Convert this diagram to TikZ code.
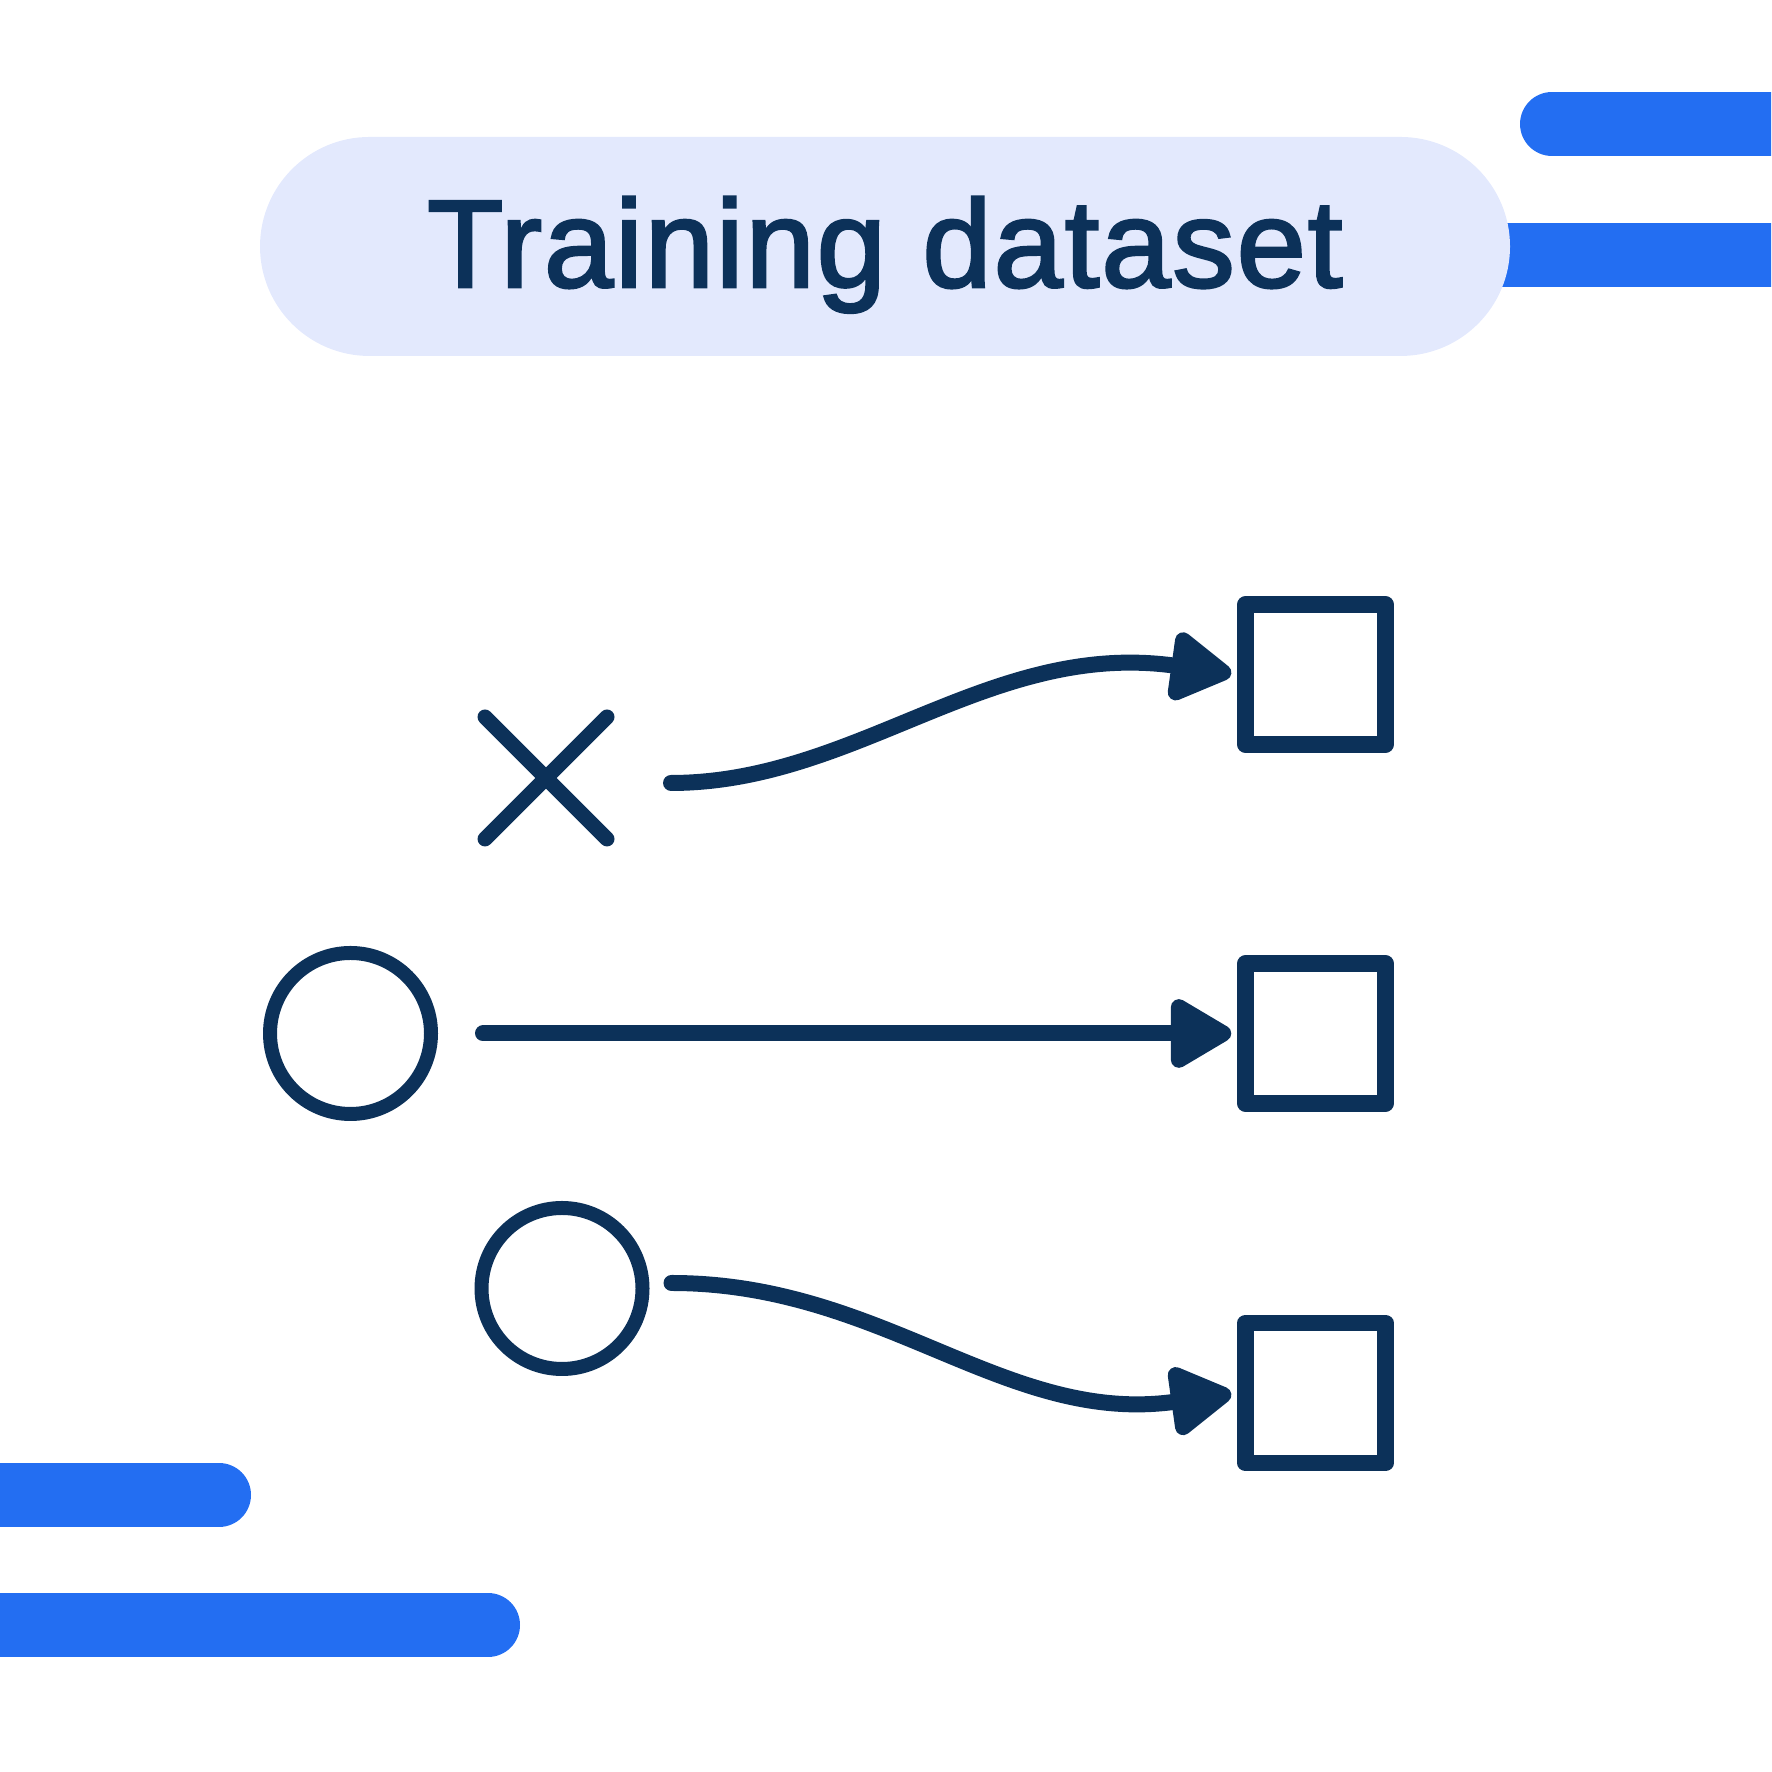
\documentclass[tikz,border=0pt]{standalone}
\usepackage{fontspec}
\setmainfont{Liberation Sans}
\newfontfamily\titlefont[LetterSpace = 1.6, FakeBold = 2.2]{Liberation Sans}
\usetikzlibrary{arrows.meta, shapes.misc}

\definecolor{navy}{HTML}{0C3159}
\definecolor{pillblue}{HTML}{E3E9FD}
\definecolor{barblue}{HTML}{236EF2}

\tikzset{
  bar/.style = {barblue, line width = 6.4mm, line cap = round},
  box/.style = {draw = navy, line width = 1.65mm, minimum size = 14mm,
    inner sep = 0, line join = round},
  ring/.style = {draw = navy, circle, line width = 1.4mm,
    minimum size = 16.1mm, inner sep = 0},
  link/.style = {navy, line width = 1.6mm, line cap = round,
    -{Triangle[length = 6.9mm, width = 7.6mm, round]}}
}

\begin{document}
\begin{tikzpicture}[x = 0.1mm, y = 0.1mm]
  \clip (0, 0) rectangle (1771, 1772);

  % side bars
  \draw[bar] (1552, 1648) -- (1800, 1648);
  \draw[bar] (1460, 1517) -- (1800, 1517);
  \draw[bar] (-40, 277) -- (219, 277);
  \draw[bar] (-40, 147) -- (488, 147);

  \node[fill = pillblue, rounded corners = 10.95mm, minimum width = 125mm,
    minimum height = 21.9mm, inner sep = 0, text height = 8.1mm,
    text depth = 0pt, text = navy,
    font = \titlefont\fontsize{35.4}{40}\selectfont]
    (title) at (885, 1525.5) {Training dataset};

  \node[draw = navy, cross out, line width = 1.5mm, line cap = round,
    minimum size = 12.2mm, inner sep = 0, outer sep = 0] (cross) at (546, 994) {};
  \node[ring] (c1) at (350.5, 738.5) {};
  \node[ring] (c2) at (562, 483.5) {};

  \node[box] (s1) at (1315.5, 1097.5) {};
  \node[box] (s2) at (1315.5, 738.5) {};
  \node[box] (s3) at (1315.5, 379) {};

  \draw[link, shorten <= 6.4mm, shorten >= 0.6mm]
    ([yshift = -0.5mm] cross.east) to[out = 0, in = 172] (s1.west);
  \draw[link, shorten <= 4.5mm, shorten >= 0.6mm] (c1.east) -- (s2.west);
  \draw[link, shorten <= 2.2mm, shorten >= 0.6mm]
    ([yshift = 0.55mm] c2.east) to[out = 0, in = 188] (s3.west);
\end{tikzpicture}
\end{document}
